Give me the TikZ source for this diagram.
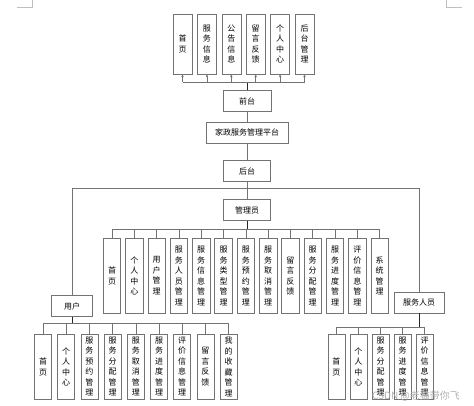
\documentclass[tikz,border=0pt]{standalone}
\usepackage{fontspec}
\newfontfamily\cjk{Noto Sans CJK SC}
\XeTeXlinebreaklocale "zh"
\XeTeXlinebreakskip=0pt plus 1pt
\usetikzlibrary{arrows.meta}
\tikzset{
  box/.style={draw=black!55, line width=0.6pt, inner sep=1pt, font=\cjk\fontsize{8}{10.5}\selectfont},
  hbox/.style={box, minimum height=21pt},
  vbox/.style={box, text width=9pt, align=center, inner sep=0pt},
  link/.style={draw=black!55, line width=0.6pt},
  stem/.style={draw=black!85, line width=1pt},
}
\begin{document}
\begin{tikzpicture}[x=1pt,y=-1pt]
\useasboundingbox[fill=white] (0,0) rectangle (474,405);
% page corner marks
\draw[black!25] (17,7) -- (32,7) -- (32,0) (446,0) -- (446,7) -- (462,7);

% front modules
\foreach \t [count=\i] in {首页,服务信息,公告信息,留言反馈,个人中心,后台管理}
  \node[vbox, minimum width=19pt, minimum height=60pt] (top\i) at ({182.5+(\i-1)*24.4},44) {\t};

\node[hbox, minimum width=48pt] (qt) at (247,101) {前台};
\node[hbox, minimum width=82pt] (pt) at (247,132.5) {家政服务管理平台};
\node[hbox, minimum width=47pt] (ht) at (247,171) {后台};
\node[hbox, minimum width=47pt] (gly) at (247,210) {管理员};
\node[hbox, minimum width=41pt] (yh) at (72,306) {用户};
\node[hbox, minimum width=50pt] (fwry) at (419,302.5) {服务人员};

% admin modules
\foreach \t [count=\i] in {首页,个人中心,用户管理,服务人员管理,服务信息管理,服务类型管理,服务预约管理,服务取消管理,留言反馈,服务分配管理,服务进度管理,评价信息管理,系统管理}
  \node[vbox, minimum width=17.5pt, minimum height=75pt] (adm\i) at ({112+(\i-1)*22.3},275.8) {\t};

% user modules
\foreach \t [count=\i] in {首页,个人中心,服务预约管理,服务分配管理,服务取消管理,服务进度管理,评价信息管理,留言反馈,我的收藏管理}
  \node[vbox, minimum width=17pt, minimum height=65pt] (usr\i) at ({43+(\i-1)*23.2},366.7) {\t};

% staff modules
\foreach \t [count=\i] in {首页,个人中心,服务分配管理,服务进度管理,评价信息管理}
  \node[vbox, minimum width=17pt, minimum height=65pt] (stf\i) at ({336.3+(\i-1)*22.1},366.7) {\t};

% connectors
\coordinate (tj) at (247,82);
\draw[stem] (qt) -- (tj);
\draw[link] (tj -| top1) -- (tj -| top6);
\foreach \i in {1,...,6}
  \draw[link, -{Stealth[length=3pt,width=2.5pt]}] (tj -| top\i) -- (top\i.south);
\draw[link] (qt) -- (pt);
\draw[link] (pt) -- (ht);
\draw[link] (ht) -- (gly);
\coordinate (mj) at (247,188.7);
\draw[link] (yh.north) |- (mj) -| (fwry.north);

\coordinate (aj) at (247,229.3);
\draw[stem] (gly) -- (aj);
\draw[link] (aj -| adm1) -- (aj -| adm13);
\foreach \i in {1,...,13}
  \draw[link] (aj -| adm\i) -- (adm\i.north);

\coordinate (uj) at (72,323.5);
\draw[stem] (yh) -- (uj);
\draw[link] (uj -| usr1) -- (uj -| usr9);
\foreach \i in {1,...,9}
  \draw[link] (uj -| usr\i) -- (usr\i.north);

\coordinate (sj) at (419,327.7);
\draw[stem] (fwry) -- (sj);
\draw[link] (sj -| stf1) -- (sj -| stf5);
\foreach \i in {1,...,5}
  \draw[link] (sj -| stf\i) -- (stf\i.north);

\node[font=\cjk\fontsize{10}{10}\selectfont, text=black!30] (wm) at (416,396) {CSDN @老猫带你飞};
\end{tikzpicture}
\end{document}
